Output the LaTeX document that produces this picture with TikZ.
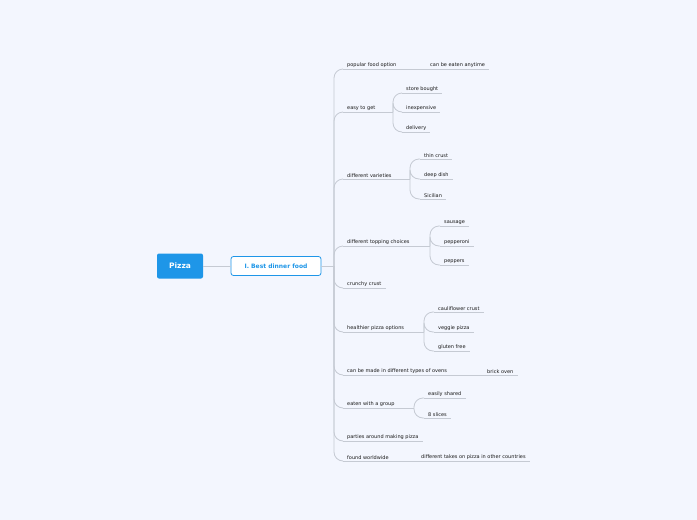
\documentclass[tikz,border=0pt]{standalone}
\usepackage{fontspec}
\setmainfont{DejaVu Sans}
\definecolor{bgcol}{HTML}{F3F6FE}
\definecolor{topblue}{HTML}{1E96E8}
\definecolor{linecol}{HTML}{C5CAD3}
\tikzset{
  leaf/.style={anchor=south west, inner xsep=4pt, inner ysep=1.6pt, font=\fontsize{5}{6}\selectfont, text=black!90},
  link/.style={draw=linecol, line width=0.8pt, rounded corners=9pt},
}
\begin{document}
\begin{tikzpicture}[x=1pt, y=-1pt]
    \fill[bgcol] (0,0) rectangle (697,520);

    % Central topics
    \node[fill=topblue, rounded corners=2pt, minimum width=46pt, minimum height=25pt, text=white, font=\fontsize{7.5}{8}\bfseries] (pizza) at (180,266) {Pizza};
    \node[draw=topblue, fill=white, line width=0.8pt, rounded corners=2.5pt, minimum width=90pt, minimum height=19pt, text=topblue, font=\fontsize{6}{7}\bfseries] (best) at (276,266) {I. Best dinner food};
    \draw[link] (pizza) -- (best);

    % Main branches
    \node[leaf] (popular) at (343,69) {popular food option};
    \node[leaf] (easy) at (343,112) {easy to get};
    \node[leaf] (variety) at (343,179) {different varieties};
    \node[leaf] (topping) at (343,246) {different topping choices};
    \node[leaf] (crunchy) at (343,288) {crunchy crust};
    \node[leaf] (healthy) at (343,332) {healthier pizza options};
    \node[leaf] (ovens) at (343,375) {can be made in different types of ovens};
    \node[leaf] (group) at (343,408) {eaten with a group};
    \node[leaf] (parties) at (343,441) {parties around making pizza};
    \node[leaf] (world) at (343,461) {found worldwide};

    % Sub topics
    \node[leaf] (anytime) at (426,69) {can be eaten anytime};
    \node[leaf] (store) at (402,93) {store bought};
    \node[leaf] (cheap) at (402,112) {inexpensive};
    \node[leaf] (delivery) at (402,132) {delivery};
    \node[leaf] (thin) at (420,159) {thin crust};
    \node[leaf] (deep) at (420,179) {deep dish};
    \node[leaf] (sicilian) at (420,199) {Sicilian};
    \node[leaf] (sausage) at (440,226) {sausage};
    \node[leaf] (pepperoni) at (440,246) {pepperoni};
    \node[leaf] (peppers) at (440,265) {peppers};
    \node[leaf] (cauli) at (434,312) {cauliflower crust};
    \node[leaf] (veggie) at (434,332) {veggie pizza};
    \node[leaf] (gluten) at (434,351) {gluten free};
    \node[leaf] (brick) at (483,375) {brick oven};
    \node[leaf] (shared) at (424,398) {easily shared};
    \node[leaf] (slices) at (424,418) {8 slices};
    \node[leaf] (takes) at (417,461) {different takes on pizza in other countries};

    % Underlines
    \foreach \n in {popular,easy,variety,topping,crunchy,healthy,ovens,group,parties,world,
                    anytime,store,cheap,delivery,thin,deep,sicilian,sausage,pepperoni,peppers,
                    cauli,veggie,gluten,brick,shared,slices,takes}
      \draw[linecol, line width=0.6pt] (\n.south west) -- (\n.south east);

    % Trunk to main branches
    \coordinate (trunk) at (334,266);
    \draw[link] (best.east) -- (trunk);
    \foreach \n in {popular,easy,variety,topping,crunchy,healthy,ovens,group,parties,world}
      \draw[link] (trunk) |- (\n.south west);

    % Single children
    \draw[link] (popular.south east) -- (anytime.south west);
    \draw[link] (ovens.south east) -- (brick.south west);
    \draw[link] (world.south east) -- (takes.south west);

    % Forks
    \foreach \p/\x/\kids in {easy/393/{store,cheap,delivery}, variety/410/{thin,deep,sicilian},
                             topping/430/{sausage,pepperoni,peppers}, healthy/424/{cauli,veggie,gluten},
                             group/414/{shared,slices}} {
      \draw[link] (\p.south east) -- (\x,0 |- \p.south east) coordinate (f);
      \foreach \k in \kids
        \draw[link] (f) |- (\k.south west);
    }
\end{tikzpicture}
\end{document}
